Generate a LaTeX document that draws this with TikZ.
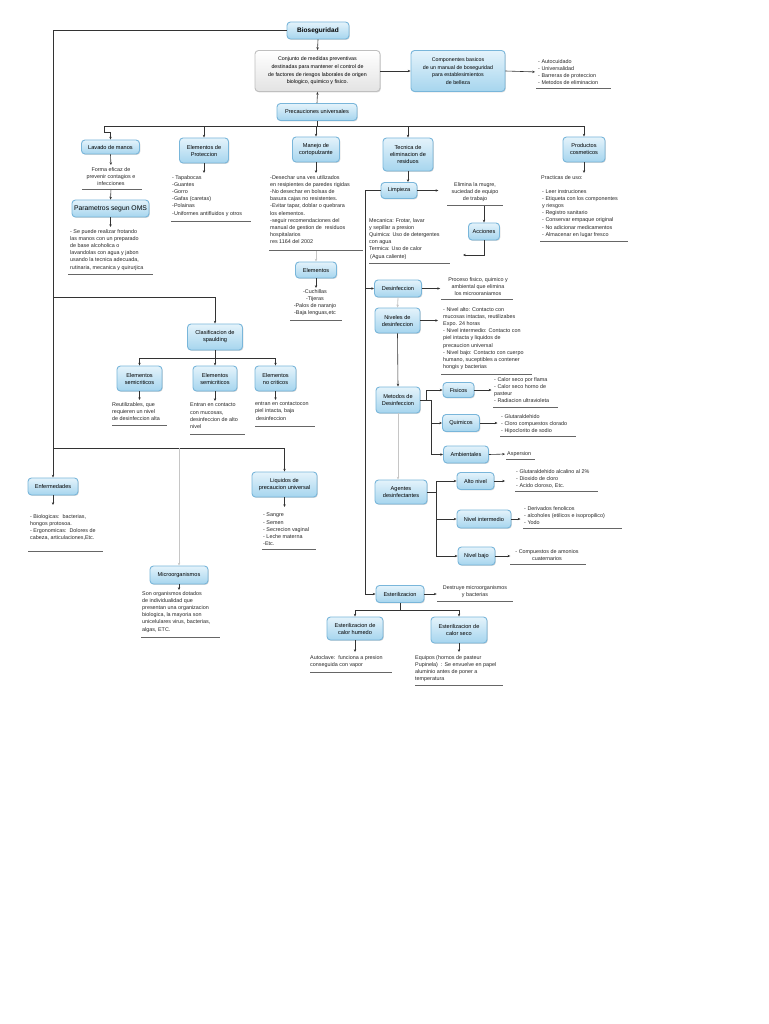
\documentclass[tikz,border=0pt]{standalone}
\usepackage{fontspec}
\setmainfont{Liberation Sans}
\usetikzlibrary{arrows.meta,shadows}
\definecolor{bxtop}{HTML}{E4F3FB}
\definecolor{bxbot}{HTML}{A6D5EE}
\definecolor{bxline}{HTML}{79B6DA}
\definecolor{lncol}{HTML}{333333}

\begin{document}
\begin{tikzpicture}[x=1pt,y=-1pt,
	bx/.style={draw=bxline,line width=0.9pt,rounded corners=3.5pt,top color=bxtop,bottom color=bxbot,align=center,inner sep=1pt,font=\fontsize{5.6}{7}\selectfont,drop shadow={opacity=0.3,shadow xshift=0.8pt,shadow yshift=-0.9pt}},
	gbx/.style={bx,draw=gray!50,top color=white,bottom color=gray!22},
	nt/.style={inner sep=0pt,align=left,font=\fontsize{5.4}{7.2}\selectfont,text=black!85},
	ln/.style={draw=lncol,line width=0.8pt},
	ar/.style={draw=lncol,line width=0.6pt,-{Stealth[length=2.8pt,width=2.4pt]}},
	ga/.style={ar,draw=gray!45,line width=0.8pt},
	ul/.style={draw=black!60,line width=0.5pt}]
	\useasboundingbox[fill=white] (0,0) rectangle (768,1024);
	\node[bx,font=\fontsize{6.5}{8}\selectfont\bfseries,minimum width=62pt,minimum height=17pt] (b0) at (318,30.5) {Bioseguridad};
	\node[gbx,font=\fontsize{5.3}{7.6}\selectfont,minimum width=125pt,minimum height=41pt] (b1) at (317.5,71) {Conjunto de medidas preventivas\\destinadas para mantener el control de\\de factores de riesgos laborales de origen\\biologico, quimico y fisico.};
	\node[bx,font=\fontsize{5.3}{7.6}\selectfont,minimum width=94pt,minimum height=41pt] (b2) at (458,71) {Componentes basicos\\de un manual de boseguridad\\para establesimientos\\de belleza};
	\node[nt,anchor=west] (t2) at (538,72) {- Autocuidado\\- Universalidad\\- Barreras de proteccion\\- Metodos de eliminacion};
	\node[bx,minimum width=80pt,minimum height=17pt] (b3) at (317,112) {Precauciones universales};
	\node[bx,minimum width=58pt,minimum height=14pt] (b4) at (110.5,147) {Lavado de manos};
	\node[bx,minimum width=49pt,minimum height=25pt] (b5) at (204,150.5) {Elementos de\\Proteccion};
	\node[bx,minimum width=47pt,minimum height=25pt] (b6) at (316,149.5) {Manejo de\\cortopulzante};
	\node[bx,minimum width=50pt,minimum height=33pt] (b7) at (408,154.5) {Tecnica de\\eliminacion de\\residuos};
	\node[bx,minimum width=42pt,minimum height=25pt] (b8) at (584,149.5) {Productos\\cosmeticos};
	\node[nt,anchor=north,align=center] (t4) at (111,167) {Forma eficaz de\\prevenir contagios e\\infecciones};
	\node[bx,font=\fontsize{6.8}{8}\selectfont,minimum width=77pt,minimum height=17pt] (b9) at (110.5,208.5) {Parametros segun OMS};
	\node[nt,anchor=north west] (t9) at (70,229) {- Se puede realizar frotando\\las manos con un preparado\\de base alcoholica o\\lavandolas con agua y jabon\\usando la tecnica adecuada,\\rutinaria, mecanica y quirurjica};
	\node[nt,anchor=north west] (t5) at (172,175) {- Tapabocas\\-Guantes\\-Gorro\\-Gafas (caretas)\\-Polainas\\-Uniformes antifluidos y otros};
	\node[nt,anchor=north west] (t6) at (270,175) {-Desechar una ves utilizados\\en resipientes de paredes rigidas\\-No desechar en bolsas de\\basura cajas no resistentes.\\-Evitar tapar, doblar o quebrara\\los elementos.\\-seguir recomendaciones del\\manual de gestion de\ \ residuos\\hospitalarios\\res 1164 del 2002};
	\node[bx,minimum width=41pt,minimum height=16pt] (b10) at (316,270) {Elementos};
	\node[nt,anchor=north,align=center] (t10) at (315,289) {-Cuchillas\\-Tijeras\\-Palos de naranjo\\-Baja lenguas,etc};
	\node[nt,anchor=north west] (t8) at (541,175) {Practicas de uso:};
	\node[nt,anchor=north west] (t8b) at (542,189) {- Leer instruciones\\- Etiqueta con los componentes\\y riesgos\\- Registro sanitario\\- Conservar empaque original\\- No adicionar medicamentos\\- Almacenar en lugar fresco};
	\node[bx,minimum width=36pt,minimum height=16pt] (b11) at (399,190.5) {Limpieza};
	\node[nt,anchor=north,align=center] (t11) at (475,182) {Elimina la mugre,\\suciedad de equipo\\de trabajo};
	\node[bx,minimum width=31pt,minimum height=17pt] (b12) at (484,231.5) {Acciones};
	\node[nt,anchor=north west] (t12) at (369,218) {Mecanica: Frotar, lavar\\y sepillar a presion\\Quimica: Uso de detergentes\\con agua\\Termica: Uso de calor\\\hspace{1pt}(Agua caliente)};
	\node[bx,minimum width=47pt,minimum height=17pt] (b13) at (398,288.5) {Desinfeccion};
	\node[nt,anchor=north,align=center] (t13) at (478,277) {Proceso fisico, quimico y\\ambiental que elimina\\los microoraniamos};
	\node[bx,minimum width=45pt,minimum height=25pt] (b14) at (397.5,320.5) {Niveles de\\desinfeccion};
	\node[nt,anchor=north west] (t14) at (443,307) {- Nivel alto: Contacto con\\mucosas intactas, reutilizabes\\Expo. 24 horas\\- Nivel intermedio: Contacto con\\piel intacta y liquidos de\\precaucion universal\\- Nivel bajo: Contacto con cuerpo\\humano, suceptibles a contener\\hongis y bacterias};
	\node[bx,minimum width=44pt,minimum height=26pt] (b15) at (398,400) {Metodos de\\Desinfeccion};
	\node[bx,minimum width=31pt,minimum height=15pt] (b16) at (458.5,390) {Fisicos};
	\node[nt,anchor=north west] (t16) at (494,377) {- Calor seco por flama\\- Calor seco horno de\\pasteur\\- Radiacion ultravioleta};
	\node[bx,minimum width=37pt,minimum height=17pt] (b17) at (461,423) {Quimicos};
	\node[nt,anchor=north west] (t17) at (501,414) {- Glutaraldehido\\- Cloro compuestos clorado\\- Hipoclorito de sodio};
	\node[bx,minimum width=45pt,minimum height=17pt] (b18) at (466,454.5) {Ambientales};
	\node[nt,anchor=west] (t18) at (507,454) {Aspersion};
	\node[bx,minimum width=52pt,minimum height=24pt] (b19) at (401,492) {Agentes\\desinfectantes};
	\node[bx,minimum width=37pt,minimum height=17pt] (b20) at (475.5,481) {Alto nivel};
	\node[nt,anchor=north west] (t20) at (516,469) {- Glutaraldehido alcalino al 2\%\\- Dioxido de cloro\\- Acido cloroso, Etc.};
	\node[bx,minimum width=54pt,minimum height=18pt] (b21) at (484,519) {Nivel intermedio};
	\node[nt,anchor=north west] (t21) at (524,506) {- Derivados fenolicos\\- alcoholes (etilicos e isopropilico)\\- Yodo};
	\node[bx,minimum width=37pt,minimum height=18pt] (b22) at (476.5,556) {Nivel bajo};
	\node[nt,anchor=north,align=center] (t22) at (547,549) {- Compuestos de amonios\\cuaternarios};
	\node[bx,minimum width=48pt,minimum height=17pt] (b23) at (400,594) {Esterilizacion};
	\node[nt,anchor=north,align=center] (t23) at (475,585) {Destruye microorganismos\\y bacterias};
	\node[bx,minimum width=56pt,minimum height=23pt] (b24) at (355,628.5) {Esterilizacion de\\calor humedo};
	\node[bx,minimum width=56pt,minimum height=26pt] (b25) at (459,630) {Esterilizacion de\\calor seco};
	\node[nt,anchor=north west] (t24) at (310,655) {Autoclave:\ \ funciona a presion\\conseguida con vapor};
	\node[nt,anchor=north west] (t25) at (415,655) {Equipos (hornos de pasteur\\Pupinela)\ \ : Se envuelve en papel\\aluminio antes de poner a\\temperatura};
	\node[bx,minimum width=55pt,minimum height=26pt] (b26) at (215,337) {Clasificacion de\\spaulding};
	\node[bx,minimum width=45pt,minimum height=25pt] (b27) at (139.5,378.5) {Elementos\\semicriticos};
	\node[bx,minimum width=44pt,minimum height=25pt] (b28) at (215,378.5) {Elementos\\semicriticos};
	\node[bx,minimum width=41pt,minimum height=25pt] (b29) at (275.5,378.5) {Elementos\\no criticos};
	\node[nt,anchor=north west] (t27) at (112,402) {Reutilizables, que\\requieren un nivel\\de desinfeccion alta};
	\node[nt,anchor=north west] (t28) at (190,403) {Entran en contacto\\con mucosas,\\desinfeccion de alto\\nivel};
	\node[nt,anchor=north west] (t29) at (255,402) {entran en contactocon\\piel intacta, baja\\\hspace{1pt}desinfeccion};
	\node[bx,minimum width=50pt,minimum height=17pt] (b30) at (53,486.5) {Enfermedades};
	\node[nt,anchor=north west] (t30) at (30,514) {- Biologicas:\ \ bacterias,\\hongos protosoa.\\- Ergonomicas:\ \ Dolores de\\cabeza, articulaciones,Etc.};
	\node[bx,minimum width=58pt,minimum height=18pt] (b31) at (179,575) {Microorganismos};
	\node[nt,anchor=north west] (t31) at (142,591) {Son organismos dotados\\de individualidad que\\presentan una organizacion\\biologica, la mayoria son\\unicelulares virus, bacterias,\\algas, ETC.};
	\node[bx,minimum width=65pt,minimum height=25pt] (b32) at (284.5,484.5) {Liquidos de\\precaucion universal};
	\node[nt,anchor=north west] (t32) at (263,513) {- Sangre\\- Semen\\- Secrecion vaginal\\- Leche materna\\-Etc.};
	\coordinate (c1) at (53,297);
	\coordinate (c2) at (53,448);
	\coordinate (c5) at (104,126.5);
	\coordinate (c6) at (585,126.5);
	\coordinate (c7) at (365,190.5);
	\coordinate (c9) at (463,255);
	\coordinate (c10) at (426,400);
	\coordinate (c11) at (431,400);
	\coordinate (c12) at (436,492);
	\coordinate (c13) at (400,610);
	\coordinate (c14) at (215,358);
	\coordinate (u4) at (111,189);
	\coordinate (u6) at (316,250);
	\coordinate (u11) at (484,205);
	\draw[ln] (b0.west) -| (c2) -- (b32.north |- c2);
	\draw[ar] (c1) -| (b26.north);
	\draw[ar] (c2) -- (b30.north);
	\draw[ga] (b31.north |- c2) -- (b31.north);
	\draw[ar] (b32.north |- c2) -- (b32.north);
	\draw[ar] (b0.south) -- (b1.north);
	\draw[ar] (b1.east) -- (b2.west);
	\draw[ar,shorten >=3pt] (b2.east) -- (t2.west);
	\draw[ar] (b3.north) -- (b1.south);
	\draw[ln] (b3.south) -- (b3.south |- c5);
	\draw[ln] (c5) -- (c6);
	\draw[ar] (c5) -- ++(0,5.5) -| (b4.north);
	\draw[ar] (b5.north |- c5) -- (b5.north);
	\draw[ar] (b6.north |- c5) -- (b6.north);
	\draw[ar] (b7.north |- c5) -- (b7.north);
	\draw[ar] (b8.north |- c5) -- (b8.north);
	\draw[ar,shorten >=2pt] (b4.south) -- (t4.north);
	\draw[ar] (u4) -- (b9.north);
	\draw[ar,shorten >=2pt] (b9.south) -- (b9.south |- t9.north);
	\draw[ar,shorten >=2pt] (b5.south) -- (b5.south |- t5.north);
	\draw[ar,shorten >=2pt] (b6.south) -- (b6.south |- t6.north);
	\draw[ga] (u6) -- (b10.north);
	\draw[ar,shorten >=1pt] (b10.south) -- (b10.south |- t10.north);
	\draw[ar,shorten >=2pt] (b8.south) -- (b8.south |- t8.north);
	\draw[ar] (b7.south) -- (b7.south |- b11.north);
	\draw[ar] (b11.west) -- (c7) |- (b23.west);
	\draw[ar] (b13.west -| c7) -- (b13.west);
	\draw[ar,shorten >=13pt] (b11.east) -- (t11.west |- b11.east);
	\draw[ar] (u11) -- (b12.north);
	\draw[ar] (b12.south) |- (c9);
	\draw[ar,shorten >=8pt] (b13.east) -- (t13.west |- b13.east);
	\draw[ga] (b13.south) -- (b14.north);
	\draw[ar,shorten >=5pt] (b14.east) -- (t14.west |- b14.east);
	\draw[ar] (b14.south) -- (b15.north);
	\draw[ar] (b15.east) -- (c10) |- (b16.west);
	\draw[ar] (b15.east) -- (c11) |- (b17.west);
	\draw[ar] (c11) |- (b18.west);
	\draw[ar,shorten >=2.5pt] (b16.east) -- (t16.west |- b16.east);
	\draw[ar,shorten >=3.5pt] (b17.east) -- (t17.west |- b17.east);
	\draw[ar,shorten >=2pt] (b18.east) -- (t18.west);
	\draw[ga] (b15.south) -- (b15.south |- b19.north);
	\draw[ln] (b19.east) -- (c12);
	\draw[ar] (c12) |- (b20.west);
	\draw[ar] (c12) |- (b21.west);
	\draw[ar] (c12) |- (b22.west);
	\draw[ar,shorten >=11pt] (b20.east) -- (t20.west |- b20.east);
	\draw[ar,shorten >=3.5pt] (b21.east) -- (t21.west |- b21.east);
	\draw[ar,shorten >=5pt] (b22.east) -- (t22.west |- b22.east);
	\draw[ar,shorten >=6pt] (b23.east) -- (t23.west |- b23.east);
	\draw[ln] (b23.south) -- (c13);
	\draw[ar] (c13) -| (b24.north);
	\draw[ar] (c13) -| (b25.north);
	\draw[ar,shorten >=3pt] (b24.south) -- (b24.south |- t24.north);
	\draw[ar,shorten >=3pt] (b25.south) -- (b25.south |- t25.north);
	\draw[ln] (b26.south) -- (c14);
	\draw[ar] (c14) -| (b27.north);
	\draw[ar] (c14) -- (b28.north);
	\draw[ar] (c14) -| (b29.north);
	\draw[ar,shorten >=2pt] (b27.south) -- (b27.south |- t27.north);
	\draw[ar,shorten >=2pt] (b28.south) -- (b28.south |- t28.north);
	\draw[ar,shorten >=2pt] (b29.south) -- (b29.south |- t29.north);
	\draw[ar,shorten >=9pt] (b30.south) -- (b30.south |- t30.north);
	\draw[ar,shorten >=1pt] (b31.south) -- (b31.south |- t31.north);
	\draw[ar,shorten >=6pt] (b32.south) -- (b32.south |- t32.north);
	\draw[ul] (536,88) -- (611,88);
	\draw[ul] (82,189) -- (142,189);
	\draw[ul] (68,274) -- (153,274);
	\draw[ul] (171,221) -- (251,221);
	\draw[ul] (269,250) -- (363,250);
	\draw[ul] (290,320) -- (342,320);
	\draw[ul] (540,241) -- (628,241);
	\draw[ul] (447,205) -- (503,205);
	\draw[ul] (369,263) -- (450,263);
	\draw[ul] (441,299) -- (513,299);
	\draw[ul] (441,374) -- (532,374);
	\draw[ul] (493,407) -- (558,407);
	\draw[ul] (500,436) -- (576,436);
	\draw[ul] (506,459) -- (535,459);
	\draw[ul] (515,491) -- (598,491);
	\draw[ul] (523,528) -- (622,528);
	\draw[ul] (510,564) -- (586,564);
	\draw[ul] (437,601) -- (513,601);
	\draw[ul] (310,672) -- (392,672);
	\draw[ul] (415,685) -- (503,685);
	\draw[ul] (112,425) -- (167,425);
	\draw[ul] (190,434) -- (245,434);
	\draw[ul] (255,426) -- (315,426);
	\draw[ul] (28,551) -- (103,551);
	\draw[ul] (141,637) -- (220,637);
	\draw[ul] (262,549) -- (316,549);
\end{tikzpicture}
\end{document}
